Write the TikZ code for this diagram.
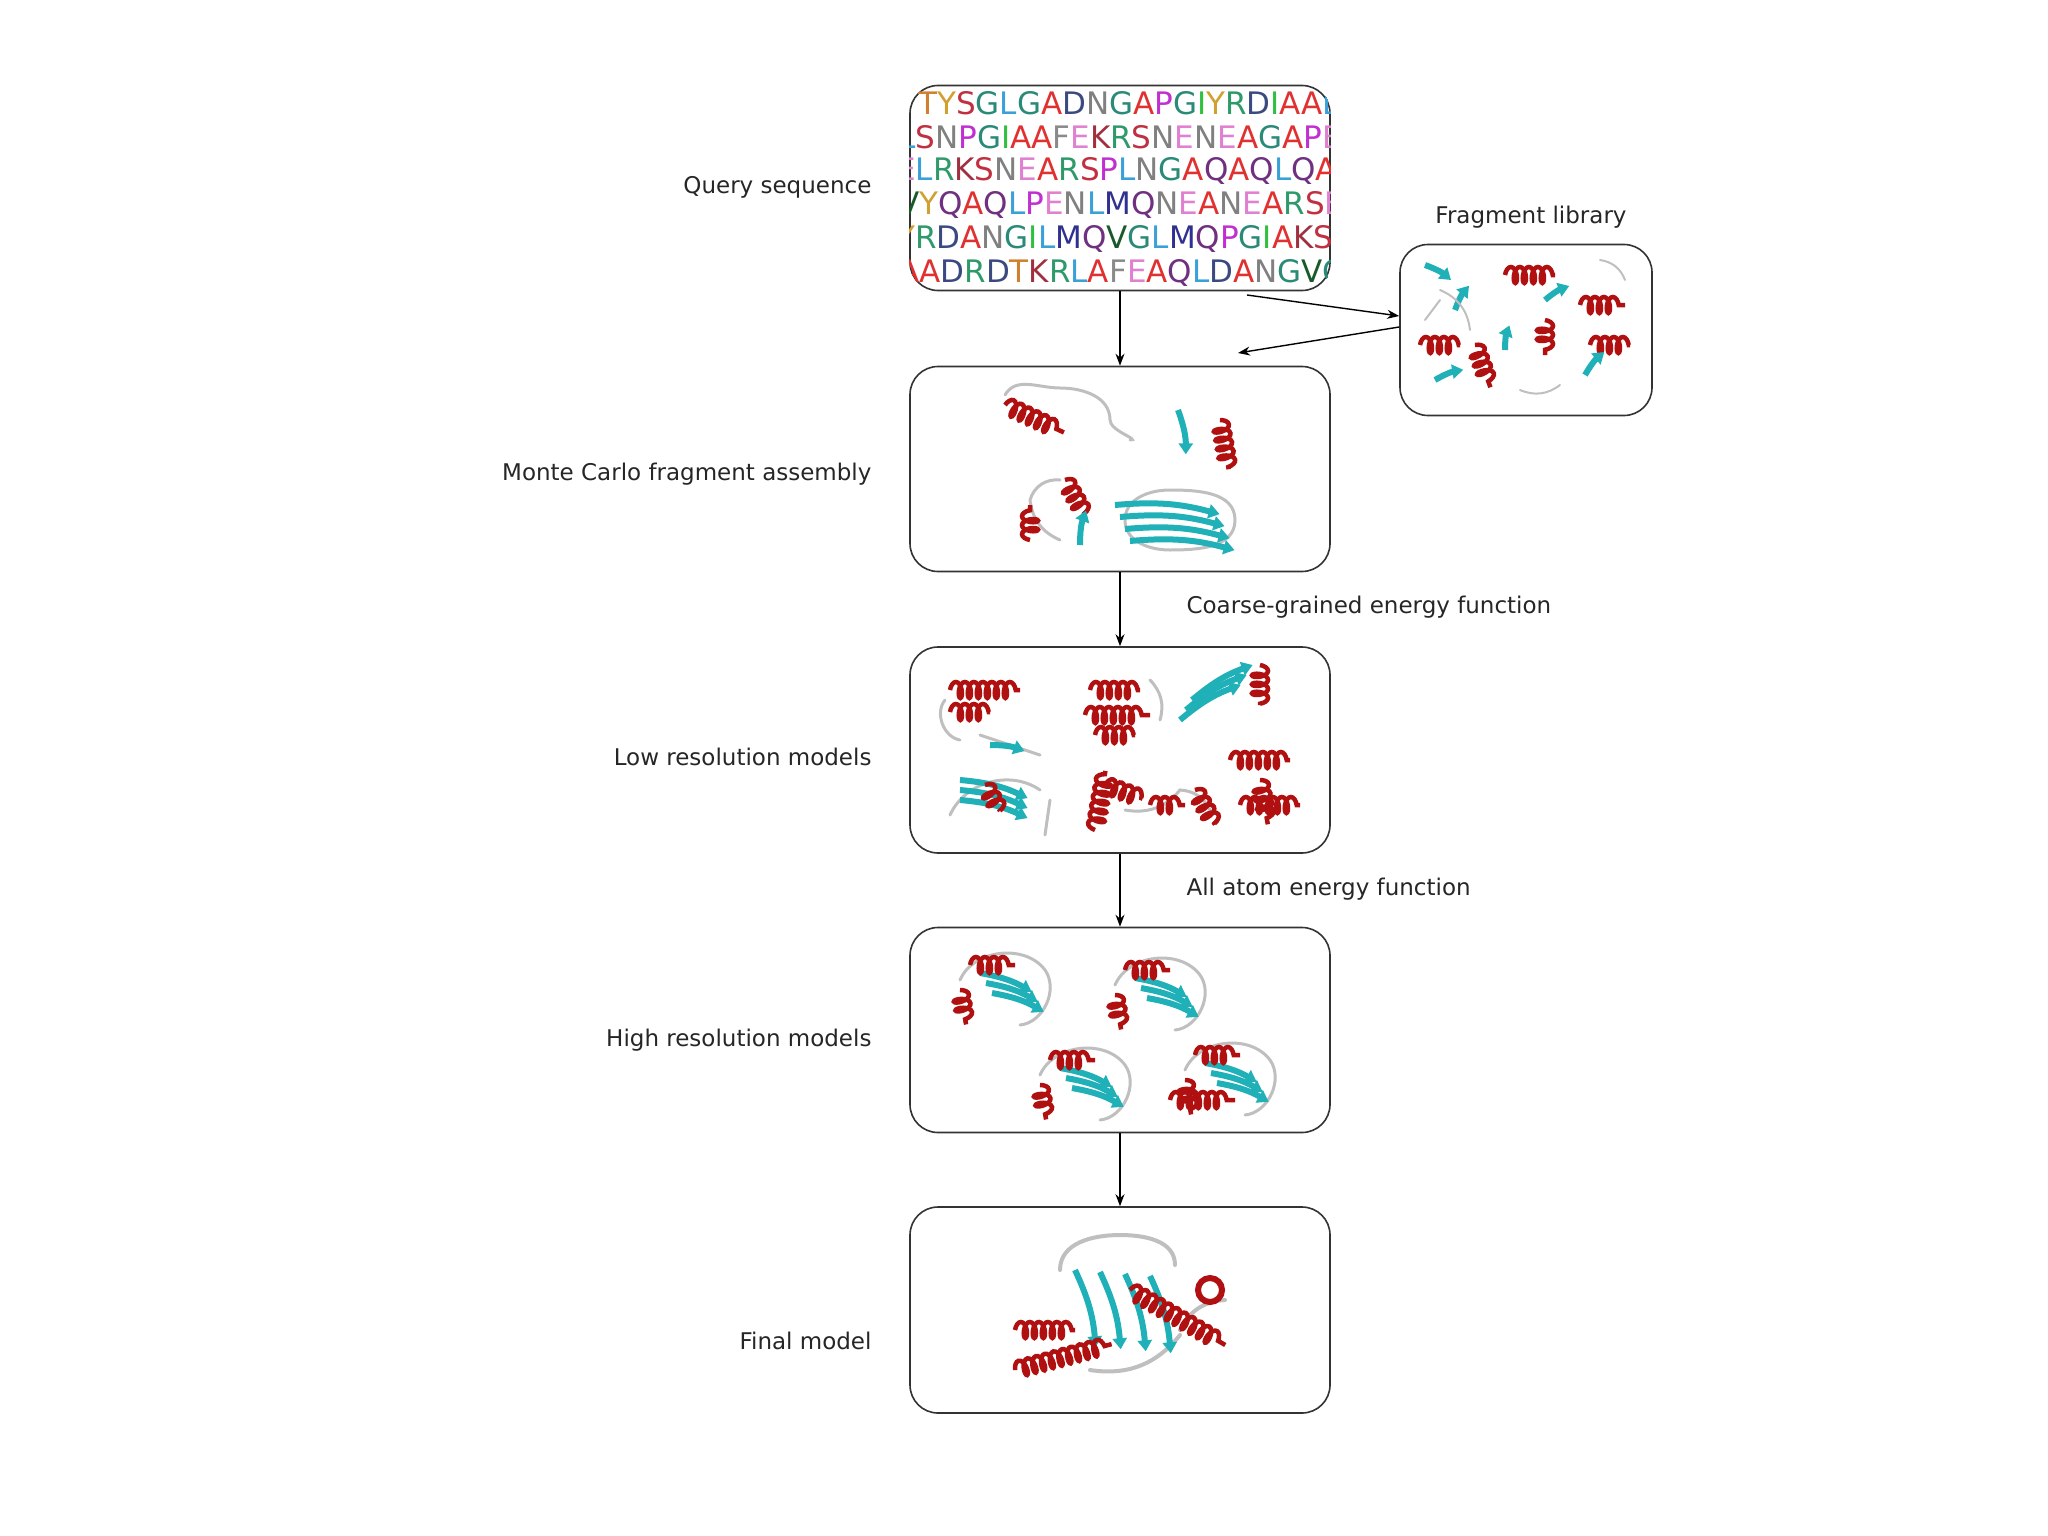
\documentclass[tikz,border=0pt]{standalone}
\usepackage{fontspec}
\setmainfont{DejaVu Sans}
\newfontfamily\seqfont{DejaVu Sans}
\usetikzlibrary{arrows.meta,decorations.pathmorphing}
\definecolor{cA}{HTML}{E03030}\definecolor{cG}{HTML}{2A8A78}\definecolor{cL}{HTML}{3AA0D8}
\definecolor{cS}{HTML}{C03040}\definecolor{cR}{HTML}{2E9A6A}\definecolor{cD}{HTML}{3A4A80}
\definecolor{cN}{HTML}{808080}\definecolor{cP}{HTML}{C030D0}\definecolor{cI}{HTML}{30C040}
\definecolor{cY}{HTML}{D0A030}\definecolor{cT}{HTML}{D08030}\definecolor{cE}{HTML}{E080D0}
\definecolor{cK}{HTML}{A03040}\definecolor{cF}{HTML}{8A8A8A}\definecolor{cQ}{HTML}{703080}
\definecolor{cM}{HTML}{303090}\definecolor{cV}{HTML}{1A5A2A}
\definecolor{hel}{HTML}{B01010}\definecolor{str}{HTML}{20B0B8}
\def\colseq#1{\ifx#1\relax\else\textcolor{c#1}{#1}\expandafter\colseq\fi}
\tikzset{
 lab/.style={font=\fontsize{23}{27}\selectfont, text=black!85},
 box/.style={draw=black!80, line width=1.6pt, rounded corners=28pt},
 arr/.style={-{Stealth[length=12pt,width=9pt]}, line width=1.4pt},
 pics/helix/.style={code={\draw[hel, line width=4.5pt, decorate, decoration={coil,aspect=0.45,segment length=9pt,amplitude=8pt}] (0,0)--(#1,0);}},
 pics/strand/.style={code={\draw[str, line width=6pt, -{Triangle[width=14pt,length=11pt]}] (0,0) to[bend left=10] (#1,0);}},
 loop/.style={draw=black!25, line width=3pt, line cap=round}
}
\begin{document}
\begin{tikzpicture}[x=1pt,y=1pt]
\useasboundingbox (0,0) rectangle (2048,-1536);
% boxes
\node[box, minimum width=420pt, minimum height=205pt] (seq) at (1120,-188) {};
\node[box, minimum width=252pt, minimum height=171pt] (frag) at (1526,-330) {};
\node[box, minimum width=420pt, minimum height=205pt] (mc) at (1120,-469) {};
\node[box, minimum width=420pt, minimum height=206pt] (low) at (1120,-750) {};
\node[box, minimum width=420pt, minimum height=205pt] (high) at (1120,-1030) {};
\node[box, minimum width=420pt, minimum height=206pt] (fin) at (1120,-1310) {};
% sequence
\begin{scope}
\clip[rounded corners=28pt] (seq.south west) rectangle (seq.north east);
\foreach \r/\s/\o in {0/TYSGLGADNGAPGIYRDIAAL/8, 1/LSNPGIAAFEKRSNENEAGAPE/-12, 2/ELRKSNEARSPLNGAQAQLQAQ/-14,
 3/VYQAQLPENLMQNEANEARSEN/-12, 4/YRDANGILMQVGLMQPGIAKSN/-14, 5/AADRDTKRLAFEAQLDANGVGA/-12}{
 \node[anchor=west, inner sep=0, font=\seqfont\fontsize{31}{33}\selectfont] (r\r) at (910+\o,-103-34*\r) {\expandafter\colseq\s\relax};
}
\end{scope}
% labels
\node[lab, anchor=east] (l1) at (875,-187) {Query sequence};
\node[lab, anchor=east] (l2) at (875,-474) {Monte Carlo fragment assembly};
\node[lab, anchor=east] (l3) at (875,-757) {Low resolution models};
\node[lab, anchor=east] (l4) at (875,-1040) {High resolution models};
\node[lab, anchor=east] (l5) at (875,-1341) {Final model};
\node[lab] (lf) at (1531,-217) {Fragment library};
\node[lab, anchor=west] (lc) at (1183,-607) {Coarse-grained energy function};
\node[lab, anchor=west] (la) at (1183,-889) {All atom energy function};
% arrows
\draw[arr] (seq) -- (mc);
\draw[arr] (mc) -- (low);
\draw[arr] (low) -- (high);
\draw[arr] (high) -- (fin);
\coordinate (s1) at (1247,-295);
\coordinate (f1) at (1238,-353);
\draw[arr] (s1) -- (frag.west |- 0,-316);
\draw[arr] (frag.west |- 0,-327) -- (f1);
% fragment library contents
\pic[rotate=-30] at (1425,-265) {strand=30};
\pic[rotate=60] at (1455,-310) {strand=28};
\pic at (1505,-275) {helix=50};
\pic at (1580,-305) {helix=45};
\pic[rotate=30] at (1545,-300) {strand=28};
\pic at (1420,-345) {helix=40};
\pic[rotate=-70] at (1475,-345) {helix=45};
\pic[rotate=-90] at (1545,-320) {helix=35};
\pic at (1590,-345) {helix=40};
\pic[rotate=20] at (1435,-380) {strand=30};
\pic[rotate=50] at (1585,-375) {strand=30};
\pic[rotate=80] at (1505,-350) {strand=25};
\draw[loop, line width=2pt] (1440,-290) to[bend left] (1470,-330) (1520,-390) to[bend right] (1560,-385) (1600,-260) to[bend left] (1625,-280) (1440,-300)--(1425,-320);
% MC
\draw[loop] (1005,-395) to[out=60,in=180] (1060,-388) to[out=0,in=90] (1110,-420) to[out=-90,in=0] (1130,-440);
\pic[rotate=-25] at (1005,-405) {helix=65};
\pic[rotate=-80] at (1178,-410) {strand=45};
\pic[rotate=-80] at (1220,-420) {helix=50};
\draw[loop] (1030,-500) to[bend left=40] (1060,-480) (1030,-500) to[bend right] (1060,-540);
\pic[rotate=90] at (1030,-540) {helix=35};
\pic[rotate=-60] at (1065,-480) {helix=40};
\pic[rotate=80] at (1080,-545) {strand=35};
\draw[loop] (1125,-520) to[out=90,in=180] (1170,-490) to[out=0,in=90] (1235,-520) to[out=-90,in=0] (1170,-550) to[out=180,in=-90] (1125,-520);
\foreach \k in {0,1,2,3} \pic[rotate=-5] at (1115+5*\k,-505-12*\k) {strand=105};
% low
\pic at (950,-690) {helix=70};
\pic at (950,-712) {helix=40};
\draw[loop] (945,-700) to[bend right=60] (960,-740) (980,-735)--(1040,-755);
\pic[rotate=-10] at (990,-745) {strand=35};
\pic at (1090,-690) {helix=50};
\pic at (1085,-715) {helix=65};
\pic at (1095,-735) {helix=40};
\draw[loop] (1150,-680) to[bend left] (1160,-720);
\foreach \k in {0,1,2} \pic[rotate=30] at (1180+6*\k,-720+10*\k) {strand=70};
\pic[rotate=-90] at (1260,-665) {helix=40};
\draw[loop] (950,-815) to[bend left=50] (1040,-790) (1050,-800)--(1045,-835);
\foreach \k in {0,1,2} \pic[rotate=-15] at (960,-800+10*\k) {strand=70};
\pic[rotate=-60] at (985,-785) {helix=30};
\pic[rotate=80] at (1095,-830) {helix=60};
\pic[rotate=-20] at (1105,-785) {helix=40};
\draw[loop] (1125,-810) to[bend right] (1180,-790) to[bend left] (1210,-810);
\pic at (1150,-805) {helix=35};
\pic[rotate=-60] at (1195,-790) {helix=40};
\pic at (1230,-760) {helix=60};
\pic[rotate=-80] at (1260,-780) {helix=45};
\pic at (1240,-805) {helix=60};
% high
\newcommand\fold[2]{
 \draw[loop] (#1-45,#2+5) to[bend left=60] (#1+40,#2+15) to[bend left=60] (#1+15,#2-40);
 \foreach \k in {0,1,2} \pic[rotate=-20] at (#1-25+6*\k,#2+12-10*\k) {strand=55};
 \pic at (#1-35,#2+20) {helix=45};
 \pic[rotate=-80] at (#1-45,#2-5) {helix=35};
}
\fold{1005}{-985}
\fold{1160}{-990}
\fold{1085}{-1080}
\fold{1230}{-1075}
\pic at (1170,-1100) {helix=65};
% final
\draw[loop, line width=4pt] (1060,-1270) to[out=90,in=180] (1120,-1235) to[out=0,in=90] (1175,-1265) (1090,-1370) to[bend right=30] (1180,-1335) (1180,-1330) to[bend left] (1225,-1300);
\foreach \k in {0,1,2,3} \pic[rotate=-75] at (1075+25*\k,-1270-2*\k) {strand=80};
\pic[rotate=-30] at (1130,-1290) {helix=110};
\pic at (1015,-1330) {helix=60};
\pic[rotate=15] at (1015,-1370) {helix=100};
\draw[hel, line width=6pt] (1210,-1290) circle (12pt);
\end{tikzpicture}
\end{document}
